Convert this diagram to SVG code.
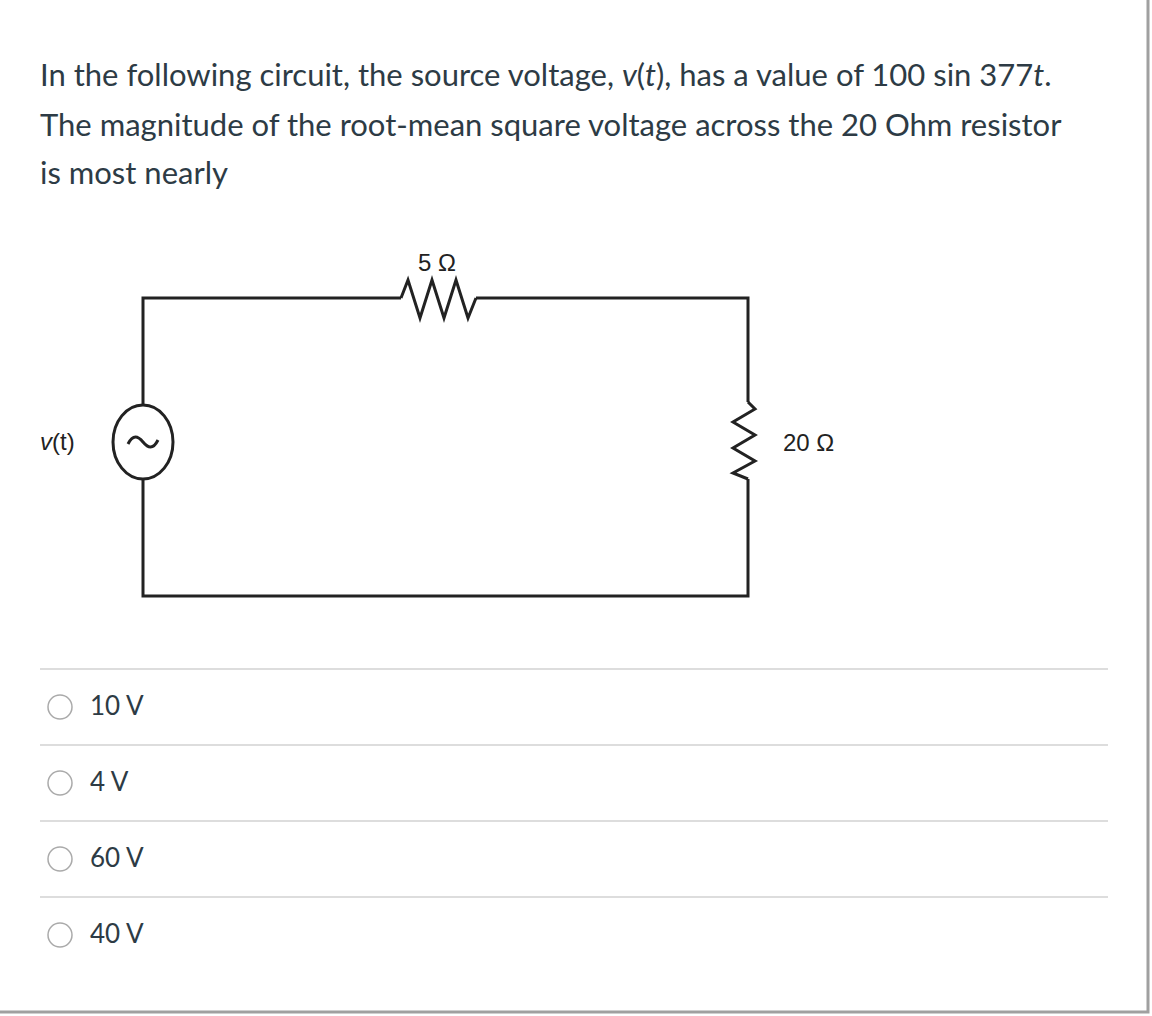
<svg xmlns="http://www.w3.org/2000/svg" width="1152" height="1016" viewBox="0 0 1152 1016">
<style>
.q{font-family:Lato,"Liberation Sans",sans-serif;font-size:31px;fill:#2d3b45}
.a{font-family:Lato,"Liberation Sans",sans-serif;font-size:26px;fill:#2d3b45}
.c{font-family:"Liberation Sans",Arial,sans-serif;font-size:24px;fill:#222}
.w{fill:none;stroke:#222;stroke-width:3}
.div{stroke:#ddd;stroke-width:2}
.rad{fill:#fff;stroke:#aaa;stroke-width:1.5}
</style>
<rect width="1152" height="1016" fill="#fff"/>
<path d="M1148 0V1012H0" fill="none" stroke="#a0a0a0" stroke-width="3"/>
<g id="question">
<text class="q" x="40" y="86">In the following circuit, the source voltage, <tspan font-style="italic">v</tspan>(<tspan font-style="italic">t</tspan>), has a value of 100 sin 377<tspan font-style="italic">t</tspan>.</text>
<text class="q" x="40" y="136">The magnitude of the root-mean square voltage across the 20 Ohm resistor</text>
<text class="q" x="40" y="184">is most nearly</text>
</g>
<g id="connectors">
<path class="w" d="M143 406V298H401M476 298H748V402M748 479V596H143V478"/>
</g>
<g id="r5">
<path class="w" stroke-width="2.5" d="M401 298L408 280L420 318L432 280L444 318L456 280L468 318L476 298"/>
<text class="c" x="437" y="271" text-anchor="middle">5 Ω</text>
</g>
<g id="r20">
<path class="w" stroke-width="2.5" d="M748 402L755 409L733 422L755 435L733 448L755 461L733 473L748 479"/>
<text class="c" x="783" y="451">20 Ω</text>
</g>
<g id="source">
<ellipse class="w" stroke-width="2.5" cx="143" cy="442" rx="30" ry="37"/>
<path class="w" stroke-width="2.5" d="M128 444C133 434 138 436 143 442S153 450 158 440"/>
<text class="c" x="40" y="450"><tspan font-style="italic">v</tspan>(t)</text>
</g>
<g id="answers">
<line class="div" x1="40" y1="669" x2="1108" y2="669"/>
<line class="div" x1="40" y1="745" x2="1108" y2="745"/>
<line class="div" x1="40" y1="821" x2="1108" y2="821"/>
<line class="div" x1="40" y1="897" x2="1108" y2="897"/>
<circle class="rad" cx="60" cy="707" r="12"/>
<circle class="rad" cx="60" cy="783" r="12"/>
<circle class="rad" cx="60" cy="859" r="12"/>
<circle class="rad" cx="60" cy="935" r="12"/>
<text class="a" x="90" y="715">10 V</text>
<text class="a" x="90" y="791">4 V</text>
<text class="a" x="90" y="867">60 V</text>
<text class="a" x="90" y="943">40 V</text>
</g>
</svg>
